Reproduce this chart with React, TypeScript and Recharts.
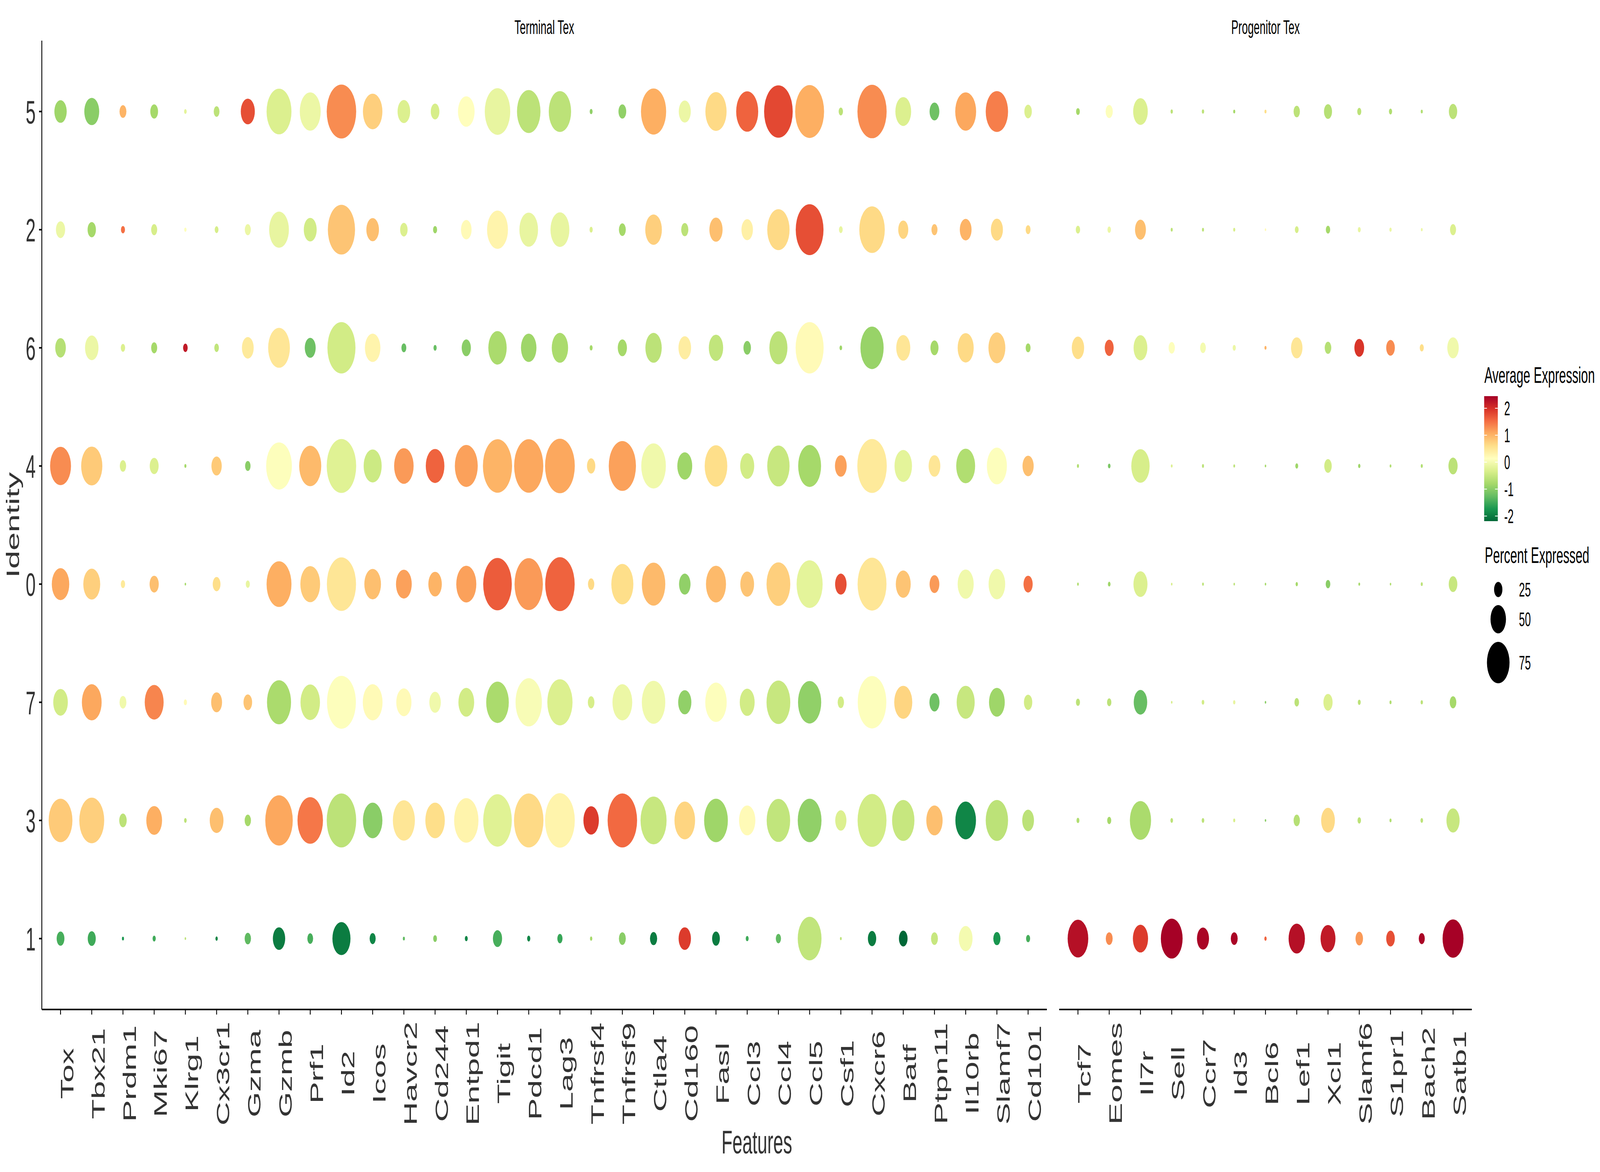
import React from "react";
import { ScatterChart, Scatter, XAxis, YAxis } from "recharts";

// features on the x axis, one list per facet
const terminalGenes = [
  "Tox", "Tbx21", "Prdm1", "Mki67", "Klrg1", "Cx3cr1", "Gzma", "Gzmb", "Prf1", "Id2",
  "Icos", "Havcr2", "Cd244", "Entpd1", "Tigit", "Pdcd1", "Lag3", "Tnfrsf4", "Tnfrsf9", "Ctla4",
  "Cd160", "Fasl", "Ccl3", "Ccl4", "Ccl5", "Csf1", "Cxcr6", "Batf", "Ptpn11", "Il10rb",
  "Slamf7", "Cd101",
];
const progenitorGenes = [
  "Tcf7", "Eomes", "Il7r", "Sell", "Ccr7", "Id3", "Bcl6", "Lef1", "Xcl1", "Slamf6",
  "S1pr1", "Bach2", "Satb1",
];

// identities, top row first
const identities = ["5", "2", "6", "4", "0", "7", "3", "1"];

// percent expressed: 32 terminal genes, then 13 progenitor genes
const pct5 = [39, 48, 20, 23, 5, 16, 45, 83, 69, 99, 64, 40, 26, 54, 85, 78, 74, 6, 23, 84, 38, 70, 73, 96, 97, 11, 98, 51, 30, 69, 74, 22,
  9, 21, 47, 4, 4, 3, 3, 18, 24, 10, 7, 3, 25];
const pct2 = [28, 25, 10, 17, 4, 9, 17, 65, 41, 91, 40, 22, 10, 33, 69, 61, 62, 7, 20, 54, 21, 42, 36, 74, 93, 9, 85, 31, 17, 37, 38, 13,
  11, 8, 34, 3, 3, 3, 1, 9, 11, 6, 4, 2, 17];
const pct6 = [33, 43, 11, 17, 12, 12, 37, 72, 34, 94, 50, 13, 7, 28, 60, 50, 53, 6, 28, 53, 40, 46, 22, 59, 94, 5, 77, 45, 24, 52, 55, 13,
  39, 27, 44, 18, 16, 7, 3, 36, 19, 30, 26, 10, 36];
const pct4 = [69, 70, 18, 27, 3, 32, 15, 86, 73, 99, 59, 64, 61, 76, 98, 98, 100, 25, 91, 82, 48, 75, 45, 74, 76, 37, 99, 57, 37, 62, 66, 35,
  3, 5, 60, 2, 3, 2, 1, 6, 22, 4, 2, 3, 28];
const pct0 = [57, 55, 11, 28, 1, 23, 10, 83, 65, 98, 54, 51, 43, 66, 96, 95, 99, 18, 73, 78, 36, 66, 44, 79, 87, 36, 97, 48, 30, 52, 54, 28,
  2, 5, 45, 1, 2, 1, 1, 4, 12, 2, 1, 3, 26];
const pct7 = [47, 65, 20, 62, 7, 34, 26, 80, 64, 97, 65, 49, 36, 51, 75, 88, 84, 19, 65, 78, 42, 71, 48, 79, 77, 18, 96, 59, 31, 59, 51, 25,
  10, 11, 43, 1, 5, 4, 1, 12, 28, 6, 3, 4, 19];
const pct3 = [79, 83, 22, 51, 5, 44, 18, 92, 85, 99, 64, 73, 64, 81, 96, 99, 100, 50, 99, 87, 68, 79, 53, 78, 79, 35, 97, 74, 53, 68, 74, 37,
  6, 10, 70, 5, 5, 3, 1, 18, 44, 8, 3, 5, 42];
const pct1 = [23, 24, 3, 7, 1, 4, 18, 39, 16, 59, 17, 3, 9, 6, 28, 7, 14, 4, 20, 21, 39, 23, 6, 14, 79, 2, 25, 26, 20, 44, 21, 10,
  68, 20, 49, 72, 38, 20, 4, 53, 48, 22, 26, 17, 69];

// average expression (scaled), same order
const avg5 = [-0.85, -1.0, 1.0, -0.8, -0.2, -0.6, 1.75, -0.3, -0.1, 1.3, 0.75, -0.3, -0.35, 0.15, -0.15, -0.6, -0.6, -0.95, -0.95, 1.05, -0.1, 0.65, 1.6, 1.8, 1.05, -0.6, 1.3, -0.3, -1.2, 1.1, 1.4, -0.3,
  -0.8, 0.1, -0.3, -0.6, -0.6, -0.8, 0.6, -0.6, -0.65, -0.6, -0.7, -0.7, -0.6];
const avg2 = [-0.1, -0.8, 1.5, -0.35, 0.1, -0.35, -0.1, -0.15, -0.4, 0.85, 0.9, -0.3, -0.85, 0.2, 0.3, -0.15, -0.15, -0.3, -0.8, 0.75, -0.6, 0.9, 0.35, 0.65, 1.75, -0.15, 0.65, 0.7, 0.85, 1.0, 0.65, 0.65,
  -0.3, -0.1, 0.9, -0.6, -0.6, -0.35, 0.2, -0.35, -0.8, -0.15, -0.1, -0.1, -0.3];
const avg6 = [-0.65, -0.1, -0.3, -0.8, 2.2, -0.55, 0.45, 0.5, -1.2, -0.4, 0.3, -1.25, -1.25, -1.0, -0.75, -0.85, -0.75, -0.8, -0.8, -0.6, 0.4, -0.55, -1.0, -0.6, 0.2, -0.85, -0.9, 0.5, -0.8, 0.65, 0.75, -0.8,
  0.6, 1.6, -0.3, 0.1, 0.0, -0.1, 1.0, 0.5, -0.65, 1.95, 1.3, 0.6, -0.05];
const avg4 = [1.3, 0.8, -0.3, -0.3, -0.8, 0.8, -1.0, 0.1, 0.95, -0.25, -0.45, 1.2, 1.6, 1.15, 1.0, 1.1, 1.1, 0.65, 1.15, -0.05, -0.85, 0.6, -0.4, -0.5, -0.8, 1.15, 0.45, -0.2, 0.5, -0.7, 0.1, 0.9,
  -0.7, -1.1, -0.35, -0.3, -0.6, -0.6, -0.8, -0.85, -0.4, -0.85, -0.7, -0.7, -0.6];
const avg0 = [1.1, 0.75, 0.45, 0.9, -0.8, 0.6, -0.15, 1.05, 0.8, 0.5, 0.9, 1.15, 1.0, 1.15, 1.65, 1.2, 1.6, 0.65, 0.6, 0.95, -0.95, 0.95, 0.85, 0.75, -0.2, 1.75, 0.5, 0.85, 1.2, -0.05, -0.05, 1.5,
  -0.7, -0.85, -0.3, -0.35, -0.6, -0.6, -0.8, -0.8, -1.0, -0.8, -0.7, -0.6, -0.5];
const avg7 = [-0.4, 1.1, -0.05, 1.35, 0.2, 0.9, 0.85, -0.75, -0.4, 0.1, 0.2, 0.2, -0.05, -0.4, -0.75, 0.05, -0.3, -0.35, -0.1, -0.05, -0.95, 0.1, -0.4, -0.5, -0.95, -0.4, 0.1, 0.7, -1.2, -0.5, -0.85, -0.4,
  -0.6, -0.6, -1.25, -0.35, -0.4, -0.15, -1.0, -0.6, -0.3, -0.6, -0.7, -0.6, -0.8];
const avg3 = [0.8, 0.75, -0.6, 1.05, -0.6, 0.9, -0.8, 1.1, 1.45, -0.6, -1.0, 0.5, 0.6, 0.3, -0.25, 0.65, 0.3, 1.9, 1.55, -0.5, 0.7, -0.85, 0.2, -0.55, -0.95, -0.3, -0.4, -0.5, 0.9, -1.9, -0.6, -0.6,
  -0.7, -0.8, -0.75, -0.6, -0.6, -0.35, -1.0, -0.65, 0.65, -0.6, -0.7, -0.6, -0.5];
const avg1 = [-1.45, -1.5, -1.75, -1.5, -0.6, -1.9, -1.3, -2.0, -1.45, -2.0, -1.9, -1.3, -1.0, -1.9, -1.45, -1.9, -1.55, -0.8, -1.0, -2.0, 1.9, -2.0, -1.5, -1.3, -0.55, -0.6, -2.0, -2.2, -0.5, 0.0, -1.75, -1.45,
  2.3, 1.3, 1.9, 2.44, 2.4, 2.4, 1.6, 2.3, 2.2, 1.2, 1.75, 2.4, 2.44];

const pctRows = [pct5, pct2, pct6, pct4, pct0, pct7, pct3, pct1];
const avgRows = [avg5, avg2, avg6, avg4, avg0, avg7, avg3, avg1];

const colorTicks = [2, 1, 0, -1, -2];
const sizeTicks = [25, 50, 75];

// RdYlGn, low (green) to high (red)
const palette = ["#006837", "#1a9850", "#66bd63", "#a6d96a", "#d9ef8b", "#ffffbf", "#fee08b", "#fdae61", "#f46d43", "#d73027", "#a50026"];
const AVG_MIN = -2.19;
const AVG_MAX = 2.45;

const FONT = "'Liberation Sans', Arial, Helvetica, sans-serif";
const AXIS_TEXT = "#333333";

// layout, in the 7500x3000 design space
const W = 7500;
const H = 3000;
const PLOT_TOP = 104;
const PLOT_BOTTOM = 2584;
const LEFT_X0 = 196;
const LEFT_X1 = 4907;
const RIGHT_X0 = 4965;
const RIGHT_X1 = 6899;
const X_LABEL_MID = 2748;

function hexToRgb(h: string) {
  const n = parseInt(h.slice(1), 16);
  return [(n >> 16) & 255, (n >> 8) & 255, n & 255];
}

function expColor(v: number) {
  let t = ((v - AVG_MIN) / (AVG_MAX - AVG_MIN)) * (palette.length - 1);
  t = Math.max(0, Math.min(palette.length - 1, t));
  const i = Math.min(palette.length - 2, Math.floor(t));
  const f = t - i;
  const a = hexToRgb(palette[i]);
  const b = hexToRgb(palette[i + 1]);
  const c = a.map((av, k) => Math.round(av + (b[k] - av) * f));
  return `rgb(${c[0]},${c[1]},${c[2]})`;
}

// radius grows linearly with percent expressed
const radius = (p: number) => 2.75 + p * 0.67;

function panelData(genes: string[], offset: number) {
  const rows: any[] = [];
  identities.forEach((id, i) => {
    genes.forEach((g, j) => {
      rows.push({
        x: j,
        y: identities.length - 1 - i,
        gene: g,
        identity: id,
        pct: pctRows[i][offset + j],
        avg: avgRows[i][offset + j],
      });
    });
  });
  return rows;
}

const terminalData = panelData(terminalGenes, 0);
const progenitorData = panelData(progenitorGenes, terminalGenes.length);

const Dot = (props: any) => {
  const { cx, cy, payload } = props;
  if (cx == null || cy == null) return null;
  return <circle cx={cx} cy={cy} r={radius(payload.pct)} fill={expColor(payload.avg)} />;
};

const makeXTick = (genes: string[]) => (props: any) => {
  const { x, payload } = props;
  return (
    <text
      transform={`translate(${x + 60}, ${X_LABEL_MID}) rotate(-90)`}
      textAnchor="middle"
      fontSize={84}
      fontFamily={FONT}
      fill={AXIS_TEXT}
    >
      {genes[payload.value]}
    </text>
  );
};

const YTick = (props: any) => {
  const { y, payload } = props;
  return (
    <text x={167} y={y} dy="0.36em" textAnchor="end" fontSize={84} fontFamily={FONT} fill={AXIS_TEXT}>
      {identities[identities.length - 1 - payload.value]}
    </text>
  );
};

const IdentityLabel = () => (
  <text
    transform={`translate(90, ${(PLOT_TOP + PLOT_BOTTOM) / 2}) rotate(-90)`}
    textAnchor="middle"
    fontSize={84}
    fontFamily={FONT}
    fill={AXIS_TEXT}
  >
    Identity
  </text>
);

const FeaturesLabel = () => (
  <text x={(LEFT_X0 + RIGHT_X1) / 2} y={2952} textAnchor="middle" fontSize={84} fontFamily={FONT} fill={AXIS_TEXT}>
    Features
  </text>
);

const line = { stroke: "#000", strokeWidth: 4 };
const yTicks = identities.map((_, i) => i);

function Legend() {
  const barX = 6957;
  const barTop = 1014;
  const barH = 320;
  const barW = 64;
  const yOf = (v: number) => barTop + barH - ((v - AVG_MIN) / (AVG_MAX - AVG_MIN)) * barH;
  const dotY = [1509, 1585, 1696];
  return (
    <g fontFamily={FONT}>
      <defs>
        <linearGradient id="avgGrad" x1="0" y1="1" x2="0" y2="0">
          {palette.map((c, i) => (
            <stop key={c} offset={i / (palette.length - 1)} stopColor={c} />
          ))}
        </linearGradient>
      </defs>
      <text x={6958} y={980} fontSize={58} fill="#000">Average Expression</text>
      <rect x={barX} y={barTop} width={barW} height={barH} fill="url(#avgGrad)" />
      {colorTicks.map((v) => (
        <g key={v}>
          <line x1={barX} x2={barX + 13} y1={yOf(v)} y2={yOf(v)} stroke="#fff" strokeWidth={2} />
          <line x1={barX + barW - 13} x2={barX + barW} y1={yOf(v)} y2={yOf(v)} stroke="#fff" strokeWidth={2} />
          <text x={7051} y={yOf(v)} dy="0.36em" fontSize={50} fill="#000">{v}</text>
        </g>
      ))}
      <text x={6960} y={1441} fontSize={58} fill="#000">Percent Expressed</text>
      {sizeTicks.map((p, i) => (
        <g key={p}>
          <circle cx={7023} cy={dotY[i]} r={radius(p)} fill="#000" />
          <text x={7120} y={dotY[i]} dy="0.36em" fontSize={50} fill="#000">{p}</text>
        </g>
      ))}
    </g>
  );
}

export default function App() {
  // the page may get a narrower viewport than the 7500x3000 design; stretch the design to fill it
  const vw = typeof window !== "undefined" && window.innerWidth > 0 ? window.innerWidth : W;
  const vh = typeof window !== "undefined" && window.innerHeight > 0 ? window.innerHeight : H;
  const kx = Math.min(1, vw / W);
  const ky = Math.min(1, vh / H);
  return (
    <div style={{ position: "absolute", left: 0, top: 0, width: W * kx, height: H * ky, overflow: "hidden", background: "#fff" }}>
      <div style={{ position: "absolute", left: 0, top: 0, width: W, height: H, transform: `scale(${kx}, ${ky})`, transformOrigin: "0 0", fontFamily: FONT }}>
        <div style={{ position: "absolute", left: 0, top: 0 }}>
          <ScatterChart width={4930} height={H} margin={{ top: PLOT_TOP, right: 4930 - LEFT_X1, bottom: 0, left: 0 }}>
            <XAxis
              type="number"
              dataKey="x"
              domain={[-0.6, terminalGenes.length - 0.4]}
              ticks={terminalGenes.map((_, i) => i)}
              interval={0}
              allowDataOverflow
              height={H - PLOT_BOTTOM}
              axisLine={line}
              tickLine={line}
              tickSize={13}
              tick={makeXTick(terminalGenes)}
              label={<FeaturesLabel />}
            />
            <YAxis
              type="number"
              dataKey="y"
              domain={[-0.6, identities.length - 0.4]}
              ticks={yTicks}
              interval={0}
              allowDataOverflow
              width={LEFT_X0}
              axisLine={line}
              tickLine={line}
              tickSize={13}
              tick={YTick}
              label={<IdentityLabel />}
            />
            <Scatter data={terminalData} shape={Dot} isAnimationActive={false} />
          </ScatterChart>
        </div>
        <div style={{ position: "absolute", left: 4940, top: 0 }}>
          <ScatterChart width={1980} height={H} margin={{ top: PLOT_TOP, right: 4940 + 1980 - RIGHT_X1, bottom: 0, left: RIGHT_X0 - 4940 }}>
            <XAxis
              type="number"
              dataKey="x"
              domain={[-0.6, progenitorGenes.length - 0.4]}
              ticks={progenitorGenes.map((_, i) => i)}
              interval={0}
              allowDataOverflow
              height={H - PLOT_BOTTOM}
              axisLine={line}
              tickLine={line}
              tickSize={13}
              tick={makeXTick(progenitorGenes)}
            />
            <YAxis type="number" dataKey="y" domain={[-0.6, identities.length - 0.4]} allowDataOverflow hide />
            <Scatter data={progenitorData} shape={Dot} isAnimationActive={false} />
          </ScatterChart>
        </div>
        <svg width={W} height={H} style={{ position: "absolute", left: 0, top: 0, pointerEvents: "none" }}>
          <text x={(LEFT_X0 + LEFT_X1) / 2} y={87} textAnchor="middle" fontSize={50} fontFamily={FONT} fill="#000">
            Terminal Tex
          </text>
          <text x={(RIGHT_X0 + RIGHT_X1) / 2} y={87} textAnchor="middle" fontSize={50} fontFamily={FONT} fill="#000">
            Progenitor Tex
          </text>
          <Legend />
        </svg>
      </div>
    </div>
  );
}
